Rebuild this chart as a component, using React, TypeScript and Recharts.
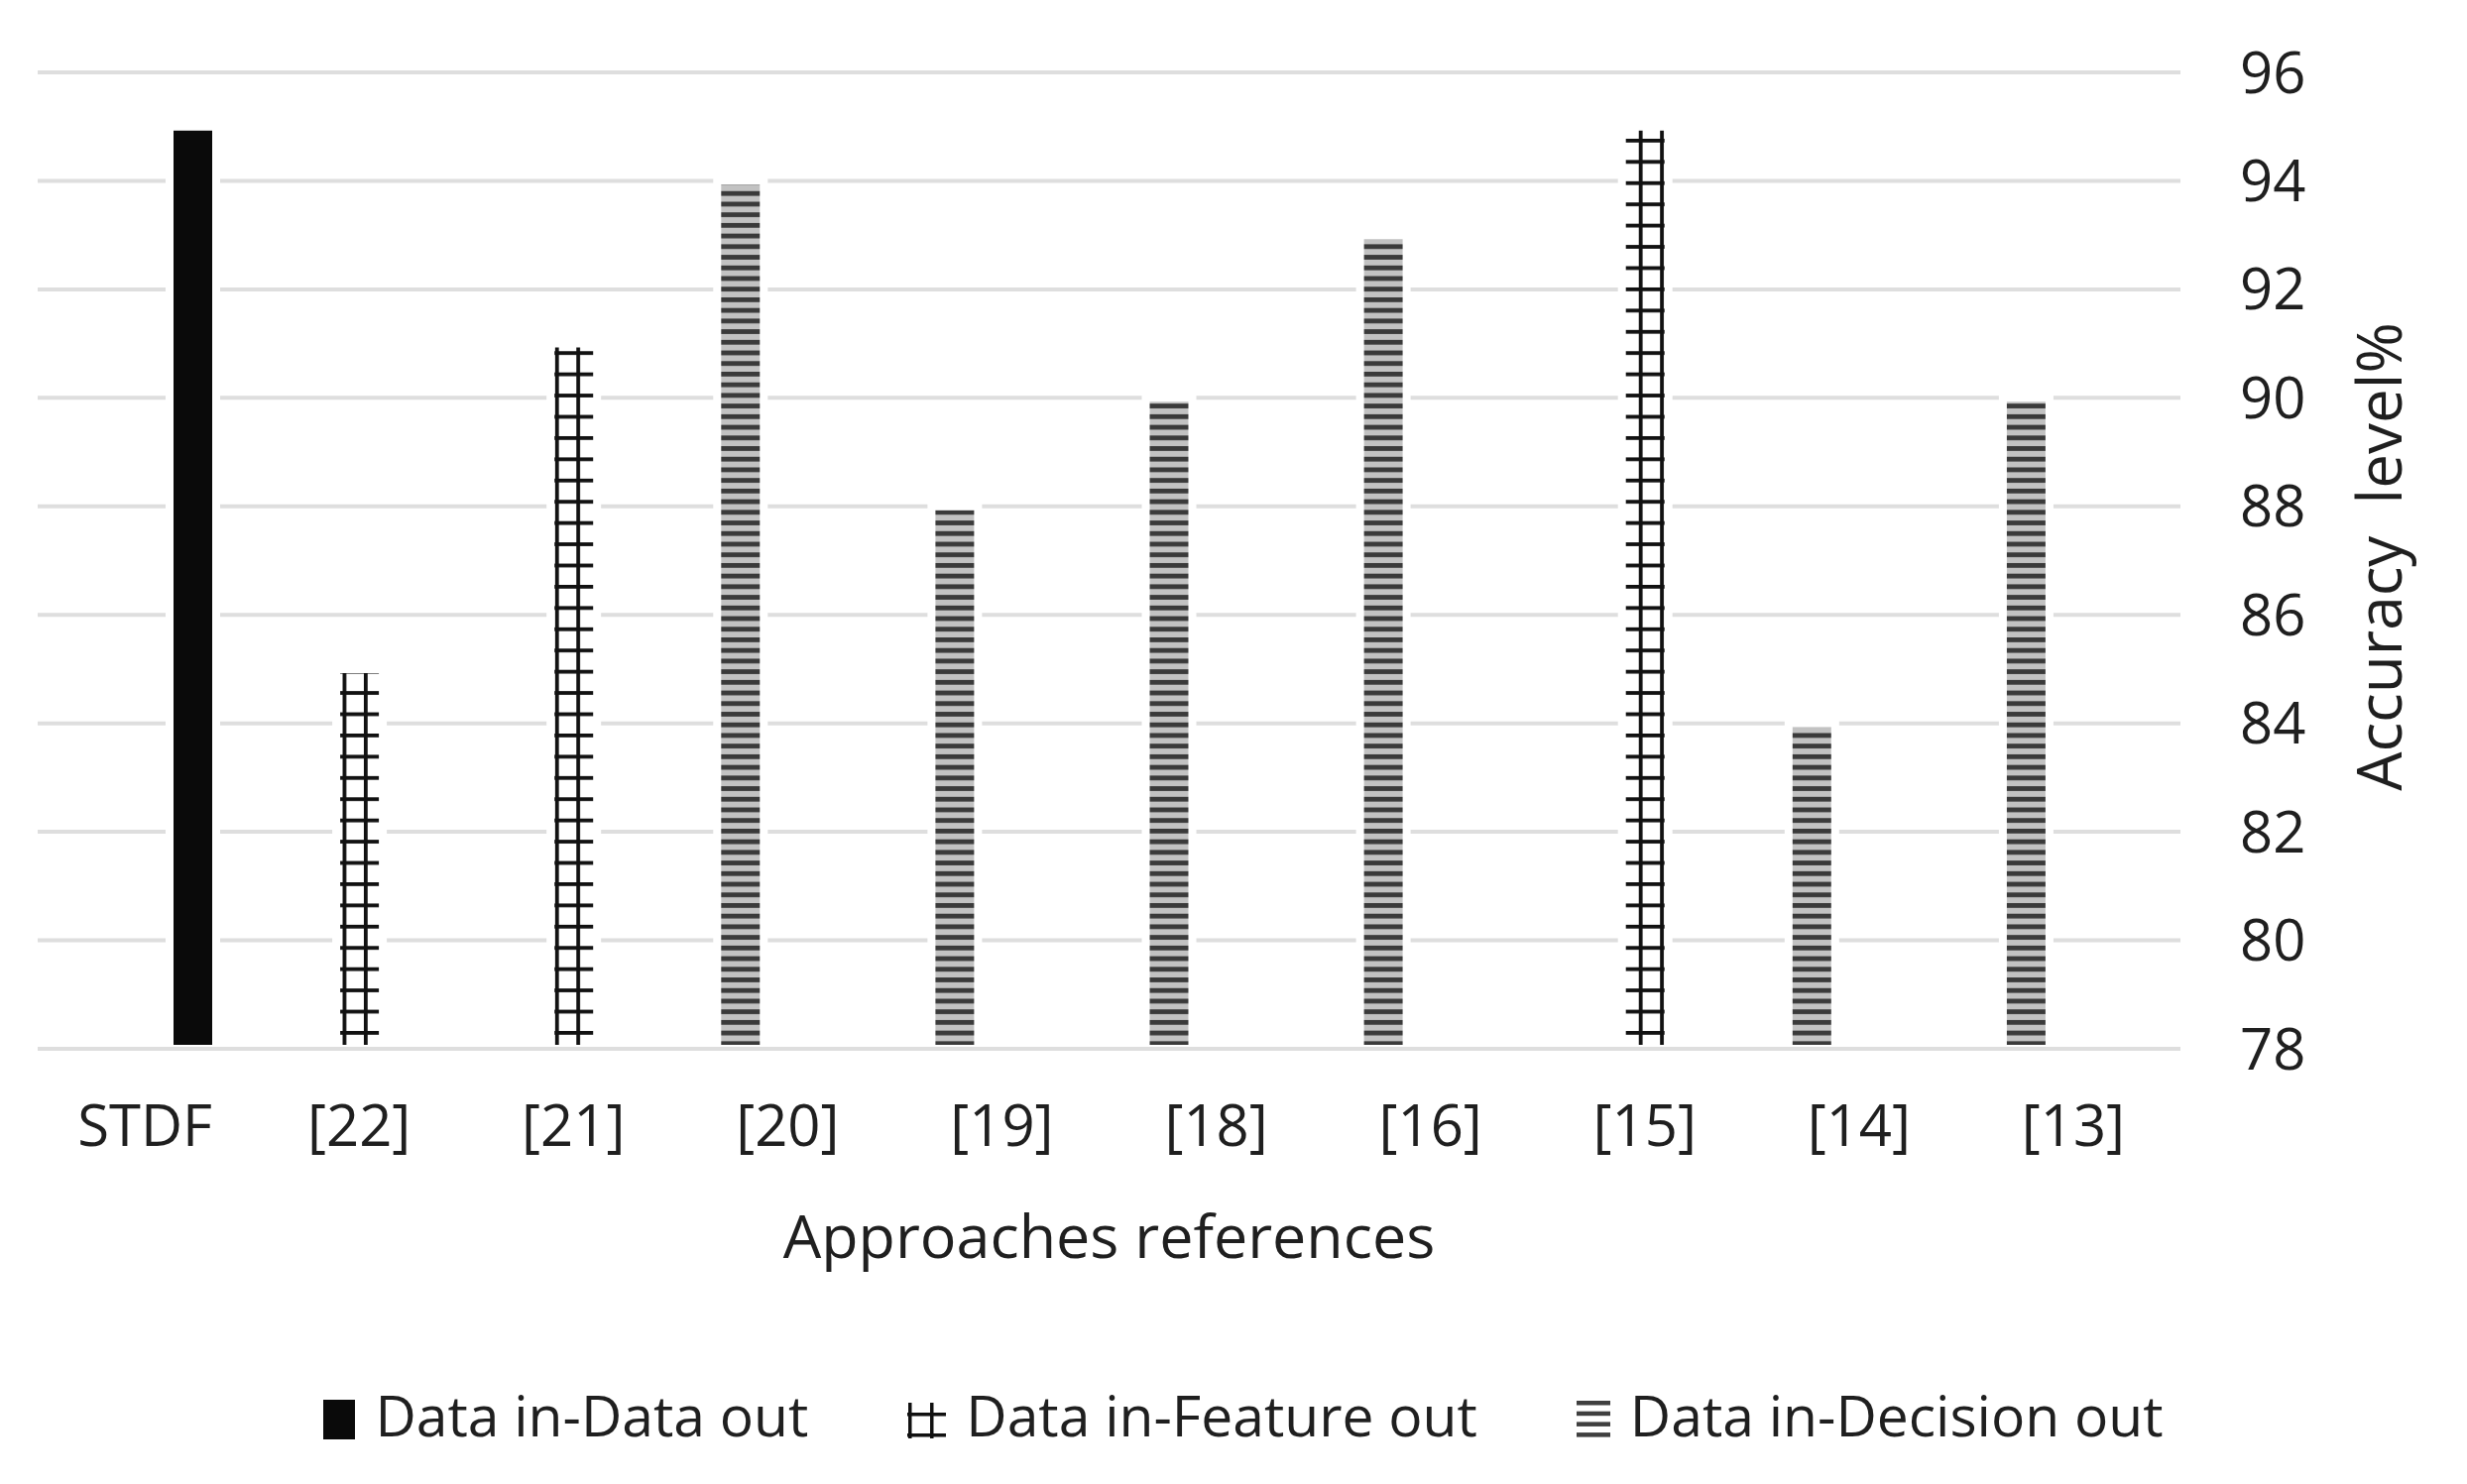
import { Bar, BarChart, CartesianGrid, Label, Legend, ReferenceLine, XAxis, YAxis } from "recharts";

const categories = ["STDF", "[22]", "[21]", "[20]", "[19]", "[18]", "[16]", "[15]", "[14]", "[13]"];
const dataInDataOut = [95, null, null, null, null, null, null, null, null, null];
const dataInFeatureOut = [null, 85, 91, null, null, null, null, 95, null, null];
const dataInDecisionOut = [null, null, null, 94, 88, 90, 93, null, 84, 90];
const accuracyTicks = [78, 80, 82, 84, 86, 88, 90, 92, 94, 96];

const seriesNames = ["Data in-Data out", "Data in-Feature out", "Data in-Decision out"];

const data = categories.map((name, i) => ({
  name,
  dataOut: dataInDataOut[i],
  featureOut: dataInFeatureOut[i],
  decisionOut: dataInDecisionOut[i],
}));

const FONT = '"Open Sans", "Noto Sans", sans-serif';
const TEXT = "#1f1f1f";
const GRID = "#dedede";

// small legend swatches, drawn like the ones in the bars
function Swatch({ kind }: { kind: number }) {
  if (kind === 0) {
    return (
      <svg width={32} height={40} style={{ transform: "translateY(5px)" }}>
        <rect width={32} height={40} fill="#0a0a0a" />
      </svg>
    );
  }
  if (kind === 1) {
    return (
      <svg width={39} height={36} style={{ transform: "translateY(6px)" }}>
        <rect x={1} width={3.5} height={36} fill="#111" />
        <rect x={23} width={3.5} height={36} fill="#111" />
        <rect y={10} width={39} height={3.5} fill="#111" />
        <rect y={31} width={39} height={3.5} fill="#111" />
      </svg>
    );
  }
  return (
    <svg width={34} height={38} style={{ transform: "translateY(5px)" }}>
      {[0, 1, 2, 3].map((k) => (
        <rect key={k} y={k * 10.7} width={34} height={4.5} fill="#3f3f3f" />
      ))}
    </svg>
  );
}

function renderLegend() {
  return (
    <div
      style={{
        display: "flex",
        justifyContent: "center",
        alignItems: "center",
        height: 100,
        paddingRight: 18,
        fontFamily: FONT,
        fontSize: 57,
        lineHeight: "100px",
        color: TEXT,
      }}
    >
      {seriesNames.map((name, i) => (
        <div key={name} style={{ display: "flex", alignItems: "center", marginLeft: i === 0 ? 0 : 100 }}>
          <Swatch kind={i} />
          <span style={{ marginLeft: 20, whiteSpace: "nowrap" }}>{name}</span>
        </div>
      ))}
    </div>
  );
}

function YTitle(props: any) {
  const { x, y, width, height } = props.viewBox;
  const cx = x + width - 66;
  const cy = y + height / 2 - 4;
  return (
    <text
      x={cx}
      y={cy}
      transform={`rotate(-90 ${cx} ${cy})`}
      textAnchor="middle"
      fill={TEXT}
      fontSize={62}
      fontFamily={FONT}
      style={{ whiteSpace: "pre" }}
    >
      {"Accuracy  level%"}
    </text>
  );
}

export default function App() {
  return (
    <div style={{ position: "absolute", left: 0, top: 0, width: 2488, height: 1497, background: "#fff" }}>
      <BarChart
        width={2488}
        height={1497}
        data={data}
        margin={{ top: 73, right: 0, left: 38, bottom: 20 }}
        barSize={47}
        barGap={1}
      >
        <defs>
          <pattern id="featurePattern" patternUnits="userSpaceOnUse" x={581.25} y={139.95} width={21.43} height={21.43}>
            <rect width={21.43} height={21.43} fill="#fff" />
            <rect width={3.8} height={21.43} fill="#111" />
            <rect width={21.43} height={3.8} fill="#111" />
          </pattern>
          <pattern id="decisionPattern" patternUnits="userSpaceOnUse" x={0} y={182.05} width={20} height={10.72}>
            <rect width={20} height={10.72} fill="#c2c2c2" />
            <rect width={20} height={4.8} fill="#3a3a3a" />
          </pattern>
        </defs>
        <CartesianGrid vertical={false} stroke={GRID} strokeWidth={4} />
        <XAxis
          dataKey="name"
          axisLine={false}
          tickLine={false}
          tickSize={0}
          tickMargin={57}
          height={319}
          interval={0}
          tick={{ fill: TEXT, fontSize: 58, fontFamily: FONT }}
        >
          <Label
            value="Approaches references"
            position="insideBottom"
            offset={108}
            fill={TEXT}
            fontSize={61}
            fontFamily={FONT}
          />
        </XAxis>
        <YAxis
          orientation="right"
          domain={[78, 96]}
          ticks={accuracyTicks}
          interval={0}
          axisLine={false}
          tickLine={false}
          tickSize={0}
          tickMargin={60}
          width={289}
          tick={{ fill: TEXT, fontSize: 58, fontFamily: FONT }}
        >
          <Label content={YTitle} />
        </YAxis>
        <Legend verticalAlign="bottom" align="center" content={renderLegend} />
        <Bar
          dataKey="decisionOut"
          name={seriesNames[2]}
          fill="url(#decisionPattern)"
          stroke="#fff"
          strokeWidth={8}
          isAnimationActive={false}
        />
        <Bar
          dataKey="featureOut"
          name={seriesNames[1]}
          fill="url(#featurePattern)"
          stroke="#fff"
          strokeWidth={8}
          isAnimationActive={false}
        />
        <Bar
          dataKey="dataOut"
          name={seriesNames[0]}
          fill="#0a0a0a"
          stroke="#fff"
          strokeWidth={8}
          isAnimationActive={false}
        />
        <ReferenceLine y={78} stroke={GRID} strokeWidth={4} />
      </BarChart>
    </div>
  );
}
